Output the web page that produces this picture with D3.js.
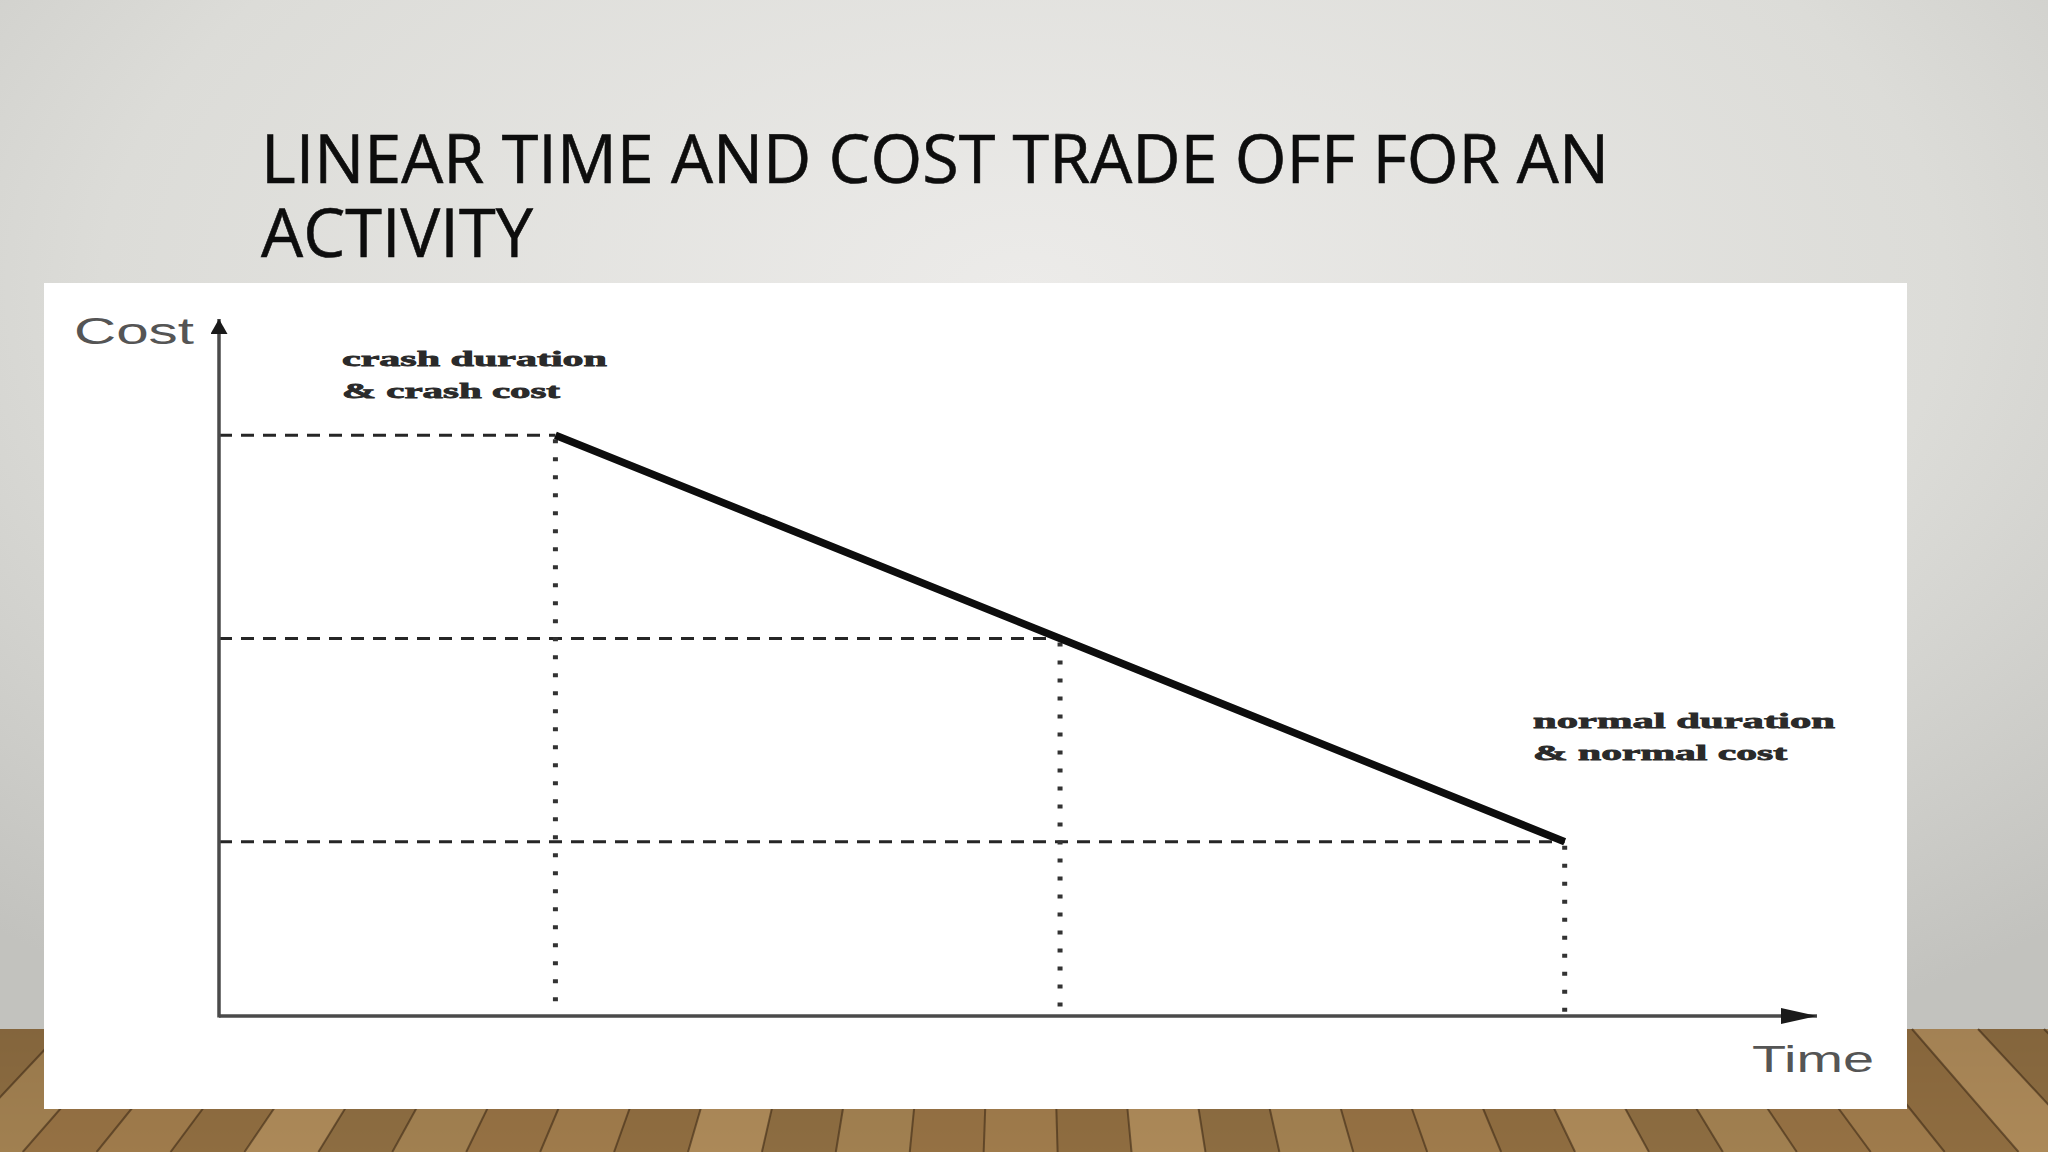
<!DOCTYPE html>
<html>
<head>
<meta charset="utf-8">
<script src="https://cdn.jsdelivr.net/npm/d3@7"></script>
<style>
  html, body { margin: 0; padding: 0; overflow: hidden; }
  svg { display: block; }
</style>
</head>
<body>
<svg id="chart" width="2048" height="1152"></svg>
<script>
// points on the trade off line: crash, in between, normal
const pointNames = ["crash", "mid", "normal"];
const timeValues = [4, 10, 16];
const costValues = [10, 6.5, 3];

// axis extents (time 0..19, cost 0..12)
const timeDomain = [0, 19];
const costDomain = [0, 12];

const titleLines = ["LINEAR TIME AND COST TRADE OFF FOR AN", "ACTIVITY"];
const crashLabel = ["crash duration", "& crash cost"];
const normalLabel = ["normal duration", "& normal cost"];

const W = 2048, H = 1152;
const svg = d3.select("#chart");
const defs = svg.append("defs");

// slide background, light in the middle, greyer at the edges
const bg = defs.append("radialGradient")
  .attr("id", "bg")
  .attr("cx", "50%").attr("cy", "25%").attr("r", "75%");
bg.append("stop").attr("offset", "0%").attr("stop-color", "#ecebe9");
bg.append("stop").attr("offset", "60%").attr("stop-color", "#dcdcd8");
bg.append("stop").attr("offset", "100%").attr("stop-color", "#c2c2be");
svg.append("rect").attr("width", W).attr("height", H).attr("fill", "url(#bg)");

// wooden floor
const floorTop = 1029;
const wood = defs.append("linearGradient")
  .attr("id", "wood").attr("x1", 0).attr("y1", 0).attr("x2", 0).attr("y2", 1);
wood.append("stop").attr("offset", "0%").attr("stop-color", "#6e5232");
wood.append("stop").attr("offset", "100%").attr("stop-color", "#9a7848");
svg.append("rect")
  .attr("x", 0).attr("y", floorTop)
  .attr("width", W).attr("height", H - floorTop)
  .attr("fill", "url(#wood)");

const plankTones = ["#a07c4c", "#8c6a3e", "#b08d5c", "#8a6a40", "#a38253", "#946f42"];
const plankTops = d3.range(-200, W + 260, 66);
const vx = 1024, spread = 1.12;
const floor = svg.append("g");
plankTops.slice(0, -1).forEach((x0, i) => {
  const x1 = plankTops[i + 1];
  const b0 = vx + (x0 - vx) * spread, b1 = vx + (x1 - vx) * spread;
  floor.append("path")
    .attr("d", `M${x0},${floorTop}L${x1},${floorTop}L${b1},${H}L${b0},${H}Z`)
    .attr("fill", plankTones[i % plankTones.length])
    .attr("opacity", 0.8);
  floor.append("line")
    .attr("x1", x0).attr("y1", floorTop).attr("x2", b0).attr("y2", H)
    .attr("stroke", "#3e2a16").attr("stroke-width", 2).attr("opacity", 0.6);
});

// title, both lines in one text element
const title = svg.append("text")
  .style("font-family", "'Open Sans', 'DejaVu Sans', sans-serif")
  .style("font-size", "68px")
  .attr("fill", "#0d0d0d")
  .attr("stroke", "#0d0d0d").attr("stroke-width", 0.6);
title.append("tspan").attr("x", 261).attr("y", 183)
  .attr("textLength", 1348).attr("lengthAdjust", "spacingAndGlyphs")
  .text(titleLines[0]);
title.append("tspan").attr("x", 261).attr("y", 257)
  .attr("textLength", 272).attr("lengthAdjust", "spacingAndGlyphs")
  .text(titleLines[1]);

// white picture panel
svg.append("rect")
  .attr("x", 44).attr("y", 283)
  .attr("width", 1907 - 44).attr("height", 1109 - 283)
  .attr("fill", "#ffffff");

// scales
const x = d3.scaleLinear().domain(timeDomain).range([219, 1817]);
const y = d3.scaleLinear().domain(costDomain).range([1016, 319]);

const data = pointNames.map((n, i) => ({ name: n, time: timeValues[i], cost: costValues[i] }));

// arrow heads
defs.append("marker")
  .attr("id", "arrow")
  .attr("viewBox", "0 0 10 10")
  .attr("refX", 10).attr("refY", 5)
  .attr("markerUnits", "userSpaceOnUse")
  .attr("markerWidth", 36).attr("markerHeight", 16)
  .attr("orient", "auto")
  .attr("preserveAspectRatio", "none")
  .append("path").attr("d", "M0,0L10,5L0,10Z").attr("fill", "#1a1a1a");
defs.append("marker")
  .attr("id", "arrowUp")
  .attr("viewBox", "0 0 10 10")
  .attr("refX", 10).attr("refY", 5)
  .attr("markerUnits", "userSpaceOnUse")
  .attr("markerWidth", 15).attr("markerHeight", 17)
  .attr("orient", "auto")
  .attr("preserveAspectRatio", "none")
  .append("path").attr("d", "M0,0L10,5L0,10Z").attr("fill", "#1a1a1a");

const plot = svg.append("g");

// dashed guides from the cost axis
plot.selectAll(".hguide")
  .data(data)
  .enter()
  .append("line")
  .attr("class", "hguide")
  .attr("x1", x(timeDomain[0]))
  .attr("x2", d => x(d.time))
  .attr("y1", d => y(d.cost))
  .attr("y2", d => y(d.cost))
  .attr("stroke", "#262626")
  .attr("stroke-width", 3)
  .attr("stroke-dasharray", "13 9");

// dotted guides down to the time axis
plot.selectAll(".vguide")
  .data(data)
  .enter()
  .append("line")
  .attr("class", "vguide")
  .attr("x1", d => x(d.time))
  .attr("x2", d => x(d.time))
  .attr("y1", d => y(d.cost) + 4)
  .attr("y2", y(costDomain[0]))
  .attr("stroke", "#333")
  .attr("stroke-width", 5)
  .attr("stroke-dasharray", "4 14");

// axes
plot.append("line")
  .attr("x1", x(timeDomain[0])).attr("y1", y(costDomain[0]))
  .attr("x2", x(timeDomain[1])).attr("y2", y(costDomain[0]))
  .attr("stroke", "#4a4a4a").attr("stroke-width", 3.5)
  .attr("marker-end", "url(#arrow)");
plot.append("line")
  .attr("x1", x(timeDomain[0])).attr("y1", y(costDomain[0]) + 1.5)
  .attr("x2", x(timeDomain[0])).attr("y2", y(costDomain[1]))
  .attr("stroke", "#4a4a4a").attr("stroke-width", 3.5)
  .attr("marker-end", "url(#arrowUp)");

// the trade off line
plot.append("path")
  .datum(data)
  .attr("fill", "none")
  .attr("stroke", "#0d0d0d")
  .attr("stroke-width", 7.5)
  .attr("d", d3.line().x(d => x(d.time)).y(d => y(d.cost)));

// axis titles
const axisFont = "'Liberation Sans', Arial, sans-serif";
plot.append("text")
  .attr("x", 74).attr("y", 344)
  .attr("textLength", 120).attr("lengthAdjust", "spacingAndGlyphs")
  .style("font-family", axisFont).style("font-size", "36px")
  .attr("fill", "#555")
  .text("Cost");
plot.append("text")
  .attr("x", 1752).attr("y", 1072)
  .attr("textLength", 122).attr("lengthAdjust", "spacingAndGlyphs")
  .style("font-family", axisFont).style("font-size", "37px")
  .attr("fill", "#555")
  .text("Time");

// point labels
const labelFont = "'Liberation Serif', 'Times New Roman', serif";
function label(lines, x0, y0, widths) {
  lines.forEach((t, i) => {
    plot.append("text")
      .attr("x", x0).attr("y", y0 + i * 32)
      .attr("textLength", widths[i]).attr("lengthAdjust", "spacingAndGlyphs")
      .style("font-family", labelFont).style("font-size", "22px")
      .style("font-weight", "bold")
      .attr("fill", "#2a2a2a")
      .attr("stroke", "#2a2a2a").attr("stroke-width", 0.8)
      .text(t);
  });
}
label(crashLabel, 342, 366, [265, 218]);
label(normalLabel, 1533, 728, [302, 254]);
</script>
</body>
</html>
